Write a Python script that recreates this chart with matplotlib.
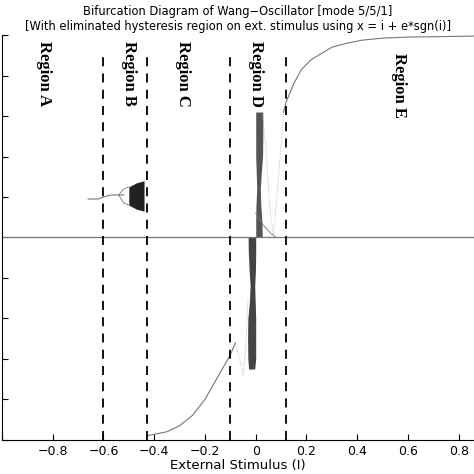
import numpy as np
import matplotlib.pyplot as plt

# branch curves
lower_x = [-0.43, -0.35, -0.30, -0.25, -0.20, -0.15, -0.10, -0.08]
lower_y = [-0.98, -0.96, -0.93, -0.88, -0.80, -0.69, -0.58, -0.52]
lower_dot_x = [-0.08, -0.06, -0.05, -0.04, -0.03]
lower_dot_y = [-0.52, -0.62, -0.68, -0.55, -0.30]
upper_dot_x = [0.025, 0.04, 0.05, 0.06, 0.07, 0.09, 0.11]
upper_dot_y = [0.62, 0.45, 0.25, 0.10, 0.01, 0.30, 0.62]
upper_x = [0.11, 0.12, 0.15, 0.18, 0.22, 0.26, 0.30, 0.36, 0.42, 0.50, 0.60, 0.86]
upper_y = [0.62, 0.67, 0.76, 0.83, 0.88, 0.91, 0.94, 0.96, 0.975, 0.985, 0.99, 0.995]
tail_x = [0.0, 0.03, 0.06, 0.08]
tail_y = [0.12, 0.06, 0.02, 0.0]

# period-doubling branch in region B
b_x = [-0.66, -0.62, -0.60, -0.57, -0.54, -0.52]
b_y = [0.19, 0.19, 0.20, 0.21, 0.21, 0.21]
b_up_x = [-0.54, -0.52, -0.50]
b_up_y = [0.21, 0.24, 0.25]
b_lo_x = [-0.54, -0.52, -0.50]
b_lo_y = [0.21, 0.17, 0.16]
tri_x = [-0.50, -0.47, -0.44]
tri_top = [0.25, 0.27, 0.28]
tri_bot = [0.16, 0.14, 0.13]

# chaotic bands near I = 0
band_up_y = [0.0, 0.08, 0.16, 0.24, 0.32, 0.40, 0.50, 0.62]
band_up_l = [0.0, 0.0, 0.001, 0.004, 0.002, 0.0, 0.0, 0.0]
band_up_r = [0.026, 0.024, 0.020, 0.018, 0.022, 0.027, 0.028, 0.028]
band_lo_y = [0.0, -0.08, -0.16, -0.24, -0.32, -0.40, -0.50, -0.60, -0.65]
band_lo_l = [-0.030, -0.029, -0.026, -0.022, -0.025, -0.031, -0.032, -0.031, -0.028]
band_lo_r = [0.0, 0.0, -0.001, -0.004, -0.002, 0.0, 0.0, 0.0, -0.004]

boundaries = [-0.6, -0.43, -0.1, 0.12]
regions = ["Region A", "Region B", "Region C", "Region D", "Region E"]
region_x = [-0.835, -0.50, -0.285, 0.0, 0.565]
region_top = [0.97, 0.97, 0.97, 0.97, 0.91]

fig = plt.figure(figsize=(4.74, 4.74), dpi=100)
ax = fig.add_axes([0.004, 0.072, 0.996, 0.854])
gray = "#777777"

ax.axhline(0, color=gray, lw=0.9)
ax.plot(lower_x, lower_y, color=gray, lw=0.8)
ax.plot(lower_dot_x, lower_dot_y, color="#aaaaaa", lw=0.6, ls=":")
ax.plot(upper_dot_x, upper_dot_y, color="#aaaaaa", lw=0.6, ls=":")
ax.plot(tail_x, tail_y, color=gray, lw=0.6)
ax.plot(upper_x, upper_y, color=gray, lw=0.8)
ax.plot(b_x, b_y, color=gray, lw=0.8)
ax.plot(b_up_x, b_up_y, color=gray, lw=0.6)
ax.plot(b_lo_x, b_lo_y, color=gray, lw=0.6)
ax.fill_between(tri_x, tri_bot, tri_top, color="#222222", lw=0)
ax.fill_betweenx(band_up_y, band_up_l, band_up_r, color="#555555", lw=0)
ax.fill_betweenx(band_lo_y, band_lo_l, band_lo_r, color="#444444", lw=0)

for b in boundaries:
    ax.plot([b, b], [-1.0, 0.9], color="black", lw=1.3, ls=(0, (5, 4)))

for name, x, top in zip(regions, region_x, region_top):
    ax.text(x, top, name, rotation=-90, ha="center", va="top",
            family="Liberation Serif", fontweight="bold", fontsize=12)

ax.set_xlim(-1.0, 0.86)
ax.set_ylim(-1.0, 1.0)
ax.set_xticks([-1.0, -0.8, -0.6, -0.4, -0.2, 0, 0.2, 0.4, 0.6, 0.8])
ax.set_xticklabels(["", "\u22120.8", "\u22120.6", "\u22120.4", "\u22120.2", "0",
                    "0.2", "0.4", "0.6", "0.8"])
ax.set_yticks(np.arange(-1.0, 1.01, 0.2))
ax.set_yticklabels([])
ax.tick_params(direction="in", labelsize=9, length=4)
for s in ["top", "right"]:
    ax.spines[s].set_visible(False)
ax.set_xlabel("External Stimulus (I)", fontsize=9.5, labelpad=1)
ax.set_title("Bifurcation Diagram of Wang\u2212Oscillator [mode 5/5/1]\n"
             "[With eliminated hysteresis region on ext. stimulus using x = i + e*sgn(i)]",
             fontsize=8.3, pad=4)

fig.savefig("out.png", dpi=100)
